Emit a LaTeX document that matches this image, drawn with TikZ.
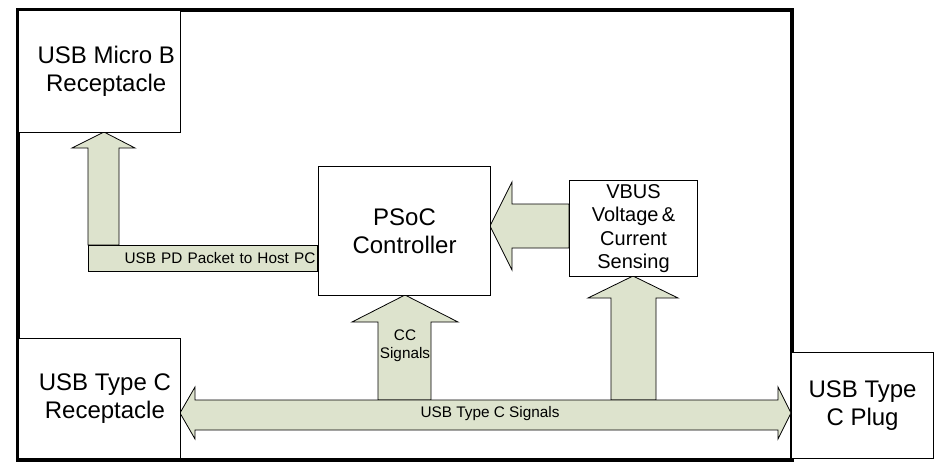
\documentclass[tikz,border=0pt]{standalone}
\usepackage{fontspec}
\setmainfont{Liberation Sans}
\begin{document}
\begin{tikzpicture}[x=0.75pt, y=-0.75pt,
	block/.style={draw, fill=white, line width=0.8pt, inner sep=0pt, align=center, font=\fontsize{18}{21}\selectfont},
	bigarrow/.style={draw, fill=arrowfill, line width=0.6pt, line join=miter},
	small/.style={font=\fontsize{11.5}{13.5}\selectfont, align=center}]
	\definecolor{arrowfill}{RGB}{221,227,205}
	\useasboundingbox (0,0) rectangle (946,471);
	\draw[line width=2.4pt] (18,10) rectangle (792,460);

	% arrows
	\draw[bigarrow] (104,132) -- (135,148) -- (119,148) -- (119,245) -- (88,245) -- (88,148) -- (72,148) -- cycle;
	\node[bigarrow, small, minimum width=229*0.75pt, minimum height=26*0.75pt, anchor=north west, inner sep=0pt, align=right, text width=225*0.75pt] (pdbar) at (88,245) {USB PD Packet to Host PC};
	\draw[bigarrow] (490,226) -- (512,182) -- (512,204) -- (569,204) -- (569,248) -- (512,248) -- (512,270) -- cycle;
	\draw[bigarrow] (405,295) -- (458,322) -- (431,322) -- (431,400) -- (378,400) -- (378,322) -- (352,322) -- cycle;
	\node[small] (cc) at (405,346) {CC\\Signals};
	\draw[bigarrow] (633,276) -- (678,298) -- (656,298) -- (656,400) -- (611,400) -- (611,298) -- (588,298) -- cycle;
	\draw[bigarrow] (180,413) -- (195,387) -- (195,400) -- (778,400) -- (778,387) -- (791,413) -- (778,439) -- (778,430) -- (195,430) -- (195,439) -- cycle;
	\node[small] (typec) at (490,414) {USB Type C Signals};

	% blocks
	\node[block, minimum width=162*0.75pt, minimum height=122*0.75pt, anchor=north west] (micro) at (18,10) {\hspace*{10pt}USB Micro B\\\hspace*{10pt}Receptacle};
	\node[block, minimum width=172*0.75pt, minimum height=129*0.75pt, anchor=north west] (psoc) at (318,166) {PSoC\\Controller};
	\node[block, minimum width=128*0.75pt, minimum height=96*0.75pt, anchor=north west, font=\fontsize{15}{17.5}\selectfont] (vbus) at (569,180) {VBUS\\Voltage\,\&\\Current\\Sensing};
	\node[block, minimum width=162*0.75pt, minimum height=120*0.75pt, anchor=north west] (recep) at (18,338) {\hspace*{8pt}USB Type C\\\hspace*{8pt}Receptacle};
	\node[block, minimum width=142*0.75pt, minimum height=106*0.75pt, anchor=north west] (plug) at (791,352) {USB Type\\C Plug};
\end{tikzpicture}
\end{document}
